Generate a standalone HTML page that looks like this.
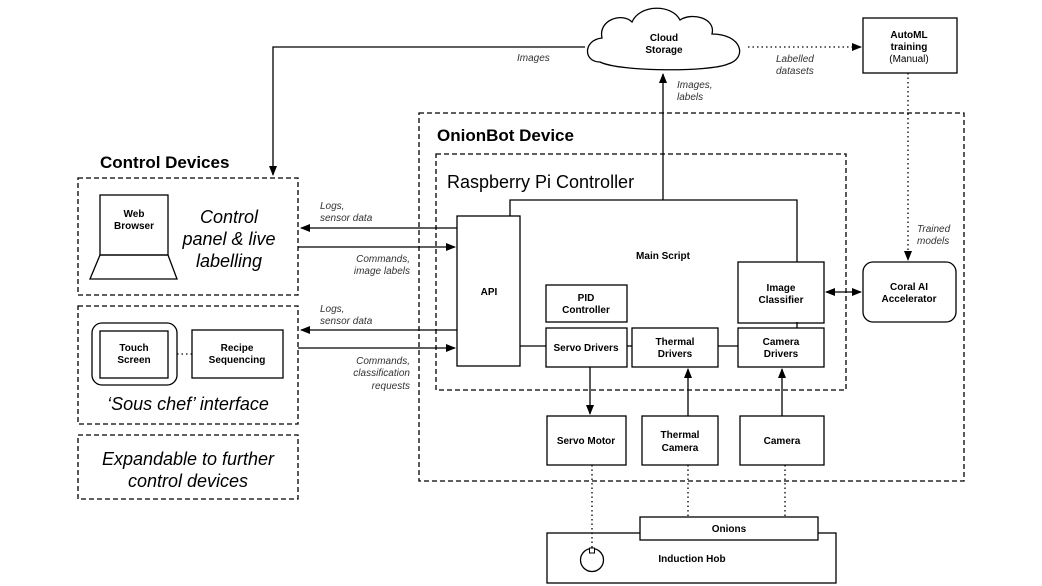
<!DOCTYPE html>
<html><head><meta charset="utf-8"><style>
html,body{margin:0;padding:0;background:#fff;}
svg{display:block;font-family:"Liberation Sans",Arial,sans-serif;}
.b{font-weight:bold;font-size:10px;}
.i{font-style:italic;font-size:10px;fill:#333;}
.big{font-style:italic;font-size:18px;}
</style></head><body>
<svg width="1042" height="586" viewBox="0 0 1042 586" xmlns="http://www.w3.org/2000/svg">
<defs>
<marker id="a" markerWidth="10" markerHeight="8" refX="9" refY="4" orient="auto" markerUnits="userSpaceOnUse"><path d="M0,0 L10,4 L0,8 z" fill="#000"/></marker>
<marker id="s" markerWidth="10" markerHeight="8" refX="1" refY="4" orient="auto" markerUnits="userSpaceOnUse"><path d="M10,0 L0,4 L10,8 z" fill="#000"/></marker>
</defs>
<g fill="none" stroke="#000" stroke-width="1.3">
<!-- cloud -->
<path d="M600,62 C583,62 583,40 602,38 C598,20 622,12 632,22 C640,4 672,4 680,20 C692,12 716,18 712,34 C742,34 748,58 728,64 C710,72 620,72 600,62 z" fill="#fff"/>
<!-- images line to control devices -->
<polyline points="585,47 273,47 273,175" marker-end="url(#a)"/>
<line x1="748" y1="47" x2="861" y2="47" stroke-dasharray="1.5,3" marker-end="url(#a)"/>
<rect x="863" y="18" width="94" height="55"/>
<line x1="908" y1="73" x2="908" y2="260" stroke-dasharray="1.5,3" marker-end="url(#a)"/>
<rect x="863" y="262" width="93" height="60" rx="10"/>
<line x1="663" y1="200" x2="663" y2="74" marker-end="url(#a)"/>
<!-- dashed containers -->
<rect x="419" y="113" width="545" height="368" stroke-dasharray="5,3"/>
<rect x="436" y="154" width="410" height="236" stroke-dasharray="5,3"/>
<rect x="78" y="178" width="220" height="117" stroke-dasharray="5,3"/>
<rect x="78" y="306" width="220" height="118" stroke-dasharray="5,3"/>
<rect x="78" y="435" width="220" height="64" stroke-dasharray="5,3"/>
<!-- main script outline -->
<polyline points="510,216 510,200 797,200 797,262"/>
<line x1="797" y1="322" x2="797" y2="328"/>
<rect x="457" y="216" width="63" height="150"/>
<rect x="546" y="285" width="81" height="37"/>
<rect x="546" y="328" width="81" height="39"/>
<rect x="632" y="328" width="86" height="39"/>
<rect x="738" y="328" width="86" height="39"/>
<rect x="738" y="262" width="86" height="61"/>
<line x1="520" y1="346" x2="546" y2="346"/>
<line x1="627" y1="346" x2="632" y2="346"/>
<line x1="718" y1="346" x2="738" y2="346"/>
<line x1="826" y1="292" x2="861" y2="292" marker-start="url(#s)" marker-end="url(#a)"/>
<rect x="547" y="416" width="79" height="49"/>
<rect x="642" y="416" width="76" height="49"/>
<rect x="740" y="416" width="84" height="49"/>
<line x1="590" y1="367" x2="590" y2="414" marker-end="url(#a)"/>
<line x1="688" y1="416" x2="688" y2="369" marker-end="url(#a)"/>
<line x1="782" y1="416" x2="782" y2="369" marker-end="url(#a)"/>
<g stroke-dasharray="1.5,3">
<line x1="592" y1="465" x2="592" y2="549"/>
<line x1="688" y1="465" x2="688" y2="517"/>
<line x1="785" y1="465" x2="785" y2="517"/>
<line x1="177" y1="354" x2="192" y2="354"/>
</g>
<rect x="547" y="533" width="289" height="50"/>
<rect x="640" y="517" width="178" height="23" fill="#fff"/>
<circle cx="592" cy="560" r="11.5"/>
<rect x="589.5" y="548" width="5" height="5" fill="#fff" stroke-width="1"/>
<!-- laptop -->
<rect x="100" y="195" width="68" height="60"/>
<path d="M100,255 L168,255 L177,279 L90,279 z"/>
<rect x="92" y="323" width="85" height="62" rx="10"/>
<rect x="100" y="331" width="68" height="47"/>
<rect x="192" y="330" width="91" height="48"/>
<!-- left arrows -->
<line x1="457" y1="228" x2="301" y2="228" marker-end="url(#a)"/>
<line x1="298" y1="247" x2="455" y2="247" marker-end="url(#a)"/>
<line x1="457" y1="330" x2="301" y2="330" marker-end="url(#a)"/>
<line x1="298" y1="348" x2="455" y2="348" marker-end="url(#a)"/>
</g>
<g text-anchor="middle">
<text class="b" x="664" y="41">Cloud</text>
<text class="b" x="664" y="53">Storage</text>
<text class="b" x="909" y="38">AutoML</text>
<text class="b" x="909" y="50">training</text>
<text x="909" y="62" font-size="10">(Manual)</text>
<text class="b" x="909" y="290">Coral AI</text>
<text class="b" x="909" y="302">Accelerator</text>
<text class="b" x="663" y="259">Main Script</text>
<text class="b" x="489" y="295">API</text>
<text class="b" x="586" y="301">PID</text>
<text class="b" x="586" y="313">Controller</text>
<text class="b" x="586" y="351">Servo Drivers</text>
<text class="b" x="675" y="345">Thermal</text>
<text class="b" x="675" y="357">Drivers</text>
<text class="b" x="781" y="345">Camera</text>
<text class="b" x="781" y="357">Drivers</text>
<text class="b" x="781" y="291">Image</text>
<text class="b" x="781" y="303">Classifier</text>
<text class="b" x="586" y="444">Servo Motor</text>
<text class="b" x="680" y="438">Thermal</text>
<text class="b" x="680" y="451">Camera</text>
<text class="b" x="782" y="444">Camera</text>
<text class="b" x="729" y="532">Onions</text>
<text class="b" x="692" y="562">Induction Hob</text>
<text class="b" x="134" y="217">Web</text>
<text class="b" x="134" y="229">Browser</text>
<text class="b" x="134" y="351">Touch</text>
<text class="b" x="134" y="363">Screen</text>
<text class="b" x="237" y="351">Recipe</text>
<text class="b" x="237" y="363">Sequencing</text>
<text class="big" x="229" y="223">Control</text>
<text class="big" x="229" y="245">panel &amp; live</text>
<text class="big" x="229" y="267">labelling</text>
<text class="big" x="188" y="410">‘Sous chef’ interface</text>
<text class="big" x="188" y="465">Expandable to further</text>
<text class="big" x="188" y="487">control devices</text>
</g>
<text x="100" y="168" font-weight="bold" font-size="17">Control Devices</text>
<text x="437" y="141" font-weight="bold" font-size="17">OnionBot Device</text>
<text x="447" y="188" font-size="18">Raspberry Pi Controller</text>
<text class="i" x="517" y="61">Images</text>
<text class="i" x="776" y="62">Labelled</text>
<text class="i" x="776" y="74">datasets</text>
<text class="i" x="677" y="88">Images,</text>
<text class="i" x="677" y="100">labels</text>
<text class="i" x="917" y="232">Trained</text>
<text class="i" x="917" y="244">models</text>
<text class="i" x="320" y="209">Logs,</text>
<text class="i" x="320" y="221">sensor data</text>
<text class="i" x="320" y="312">Logs,</text>
<text class="i" x="320" y="324">sensor data</text>
<g text-anchor="end">
<text class="i" x="410" y="262">Commands,</text>
<text class="i" x="410" y="274">image labels</text>
<text class="i" x="410" y="364">Commands,</text>
<text class="i" x="410" y="376">classification</text>
<text class="i" x="410" y="389">requests</text>
</g>
</svg>
</body></html>
